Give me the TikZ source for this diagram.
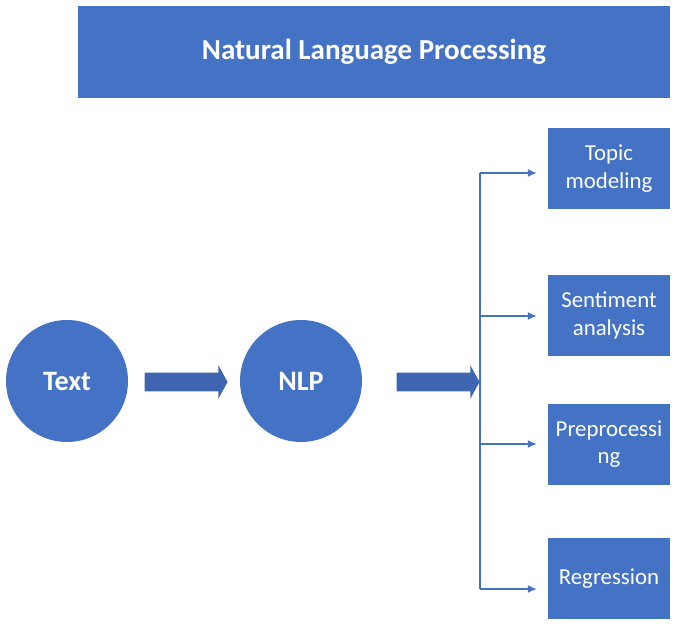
\documentclass[tikz,border=0pt]{standalone}
\usepackage{fontspec}
\setmainfont{Carlito}
\usetikzlibrary{shapes.arrows,arrows.meta}
\definecolor{nlpblue}{HTML}{4472C4}
\definecolor{nlpdark}{HTML}{3F65B0}
\begin{document}
\begin{tikzpicture}
\tikzset{ >={Latex[length=5pt,width=4.5pt]},
  box/.style={fill=nlpblue, text=white, minimum width=2.44cm, minimum height=1.62cm,
    align=center, inner sep=0pt, font=\fontsize{13}{15.5}\selectfont},
  blob/.style={fill=nlpblue, circle, minimum size=2.44cm, inner sep=0pt, text=white,
    font=\fontsize{16}{19}\selectfont\bfseries},
  fat/.style={single arrow, fill=nlpdark, minimum width=0.66cm, minimum height=1.66cm,
    single arrow head extend=0.15cm, single arrow tip angle=122,
    inner xsep=0pt, inner ysep=0.18cm},
  branch/.style={->, draw=nlpblue, line width=0.6pt, shorten >=0.22cm},
}
\useasboundingbox (0,0) rectangle (13.6,12.52);

%\draw [lightgray, dashed](0,0) grid (13,12);

\node [fill=nlpblue, minimum width=11.84cm, minimum height=1.84cm, text=white,
  font=\fontsize{16.5}{20}\selectfont\bfseries] (title) at (7.48,11.48) {Natural Language Processing};

\node [blob] (text) at (1.34,4.9) {Text};
\node [blob] (nlp)  at (6.02,4.9) {NLP};

\node [fat] (a1) at (3.67,4.88) {};
\node [fat] (a2) at (8.71,4.88) {};

\node [box] (topic) at (12.18,9.15) {Topic\\modeling};
\node [box] (senti) at (12.18,6.21) {Sentiment\\analysis};
\node [box] (prep)  at (12.18,3.64) {Preprocessi\\ng};
\node [box] (regr)  at (12.18,0.95) {Regression};

\coordinate (b1) at (9.6,9.06);
\coordinate (b2) at (9.62,6.2);
\coordinate (b3) at (9.62,3.64);
\coordinate (b4) at (9.6,0.74);

\draw [draw=nlpblue, line width=0.6pt] (b4) -- (b1);
\draw [branch] (b1) -- (b1 -| topic.west);
\draw [branch] (b2) -- (b2 -| senti.west);
\draw [branch] (b3) -- (b3 -| prep.west);
\draw [branch] (b4) -- (b4 -| regr.west);

\end{tikzpicture}
\end{document}
